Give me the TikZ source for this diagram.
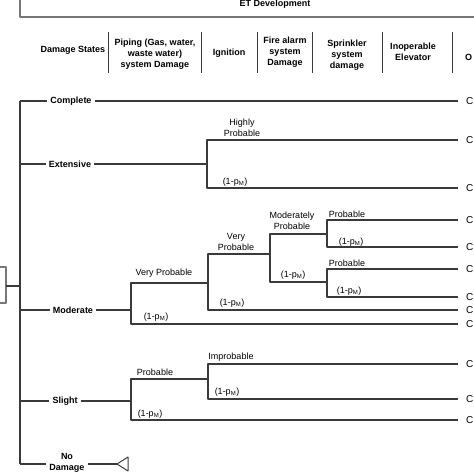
\documentclass[tikz,border=0pt]{standalone}
\usepackage{fontspec}
\setmainfont{Liberation Sans}
\usetikzlibrary{positioning}

\definecolor{treegray}{HTML}{3A3A3A}
\definecolor{framegray}{HTML}{777777}

\begin{document}
\begin{tikzpicture}[x=1pt, y=-1pt, line join=bevel,
    branch/.style={draw=treegray, line width=1.3pt},
    state/.style={font=\bfseries\fontsize{9}{11}\selectfont, align=center, inner sep=3pt},
    head/.style={font=\bfseries\fontsize{9}{11}\selectfont, align=center, inner sep=0pt},
    prob/.style={font=\fontsize{9}{11}\selectfont, align=center, inner sep=0pt},
    outc/.style={font=\fontsize{10}{12}\selectfont, anchor=west, inner sep=0pt}]
  \useasboundingbox (0,0) rectangle (474,474);
  % frame of the title and the box on the left
  \draw[framegray, line width=1.2pt] (20,-10) -- (20,17) -- (490,17);
  \node[head] (title) at (275,4) {ET Development};
  \draw[framegray, line width=1.2pt] (-10,267) -- (6,267) -- (6,303) -- (-10,303);
  \coordinate (ev) at (6,286);

  % column heads
  \node[head] (hds) at (73,50) {Damage States};
  \node[head] (hpip) at (155,54) {Piping (Gas, water,\\waste water)\\system Damage};
  \node[head] (hign) at (229,53) {Ignition};
  \node[head] (hfa) at (285,52) {Fire alarm\\system\\Damage};
  \node[head] (hspr) at (347,55) {Sprinkler\\system\\damage};
  \node[head] (helev) at (413,52) {Inoperable\\Elevator};
  \node[head, anchor=west] (hout) at (465,57) {O};
  \foreach \x in {108,201,257,312,382,452}
    \draw[treegray, line width=1pt] (\x,32) -- (\x,73);

  % trunk and damage states
  \coordinate (top) at (20,101);
  \coordinate (bot) at (20,464);
  \draw[branch] (top) -- (bot);
  \draw[branch] (ev) -- (ev -| top);
  \node[state] (cmp) at (71,101) {Complete};
  \node[state] (ext) at (70,164) {Extensive};
  \node[state] (mod) at (73,310) {Moderate};
  \node[state] (sli) at (65,401) {Slight};
  \node[state] (nod) at (67,463) {No\\Damage};
  \foreach \s in {cmp,ext,mod,sli}
    \draw[branch] (\s -| top) -- (\s);
  \draw[branch] (bot) -- (nod.west |- bot);

  % forks
  \coordinate (e1) at (207,164);
  \coordinate (m1) at (131,310);
  \coordinate (m2) at (208,283);
  \coordinate (m3) at (270,254);
  \coordinate (m4) at (327,234);
  \coordinate (m5) at (327,282);
  \coordinate (s1) at (131,401);
  \coordinate (s2) at (208,379);

  % ends of the branches
  \foreach \i/\y in {1/101,2/140,3/188,4/220,5/247,6/269,7/297,8/310,9/324,10/364,11/399,12/420} {
    \coordinate (c\i) at (458,\y);
    \node[outc] (o\i) at ([xshift=8]c\i) {C};
  }

  \draw[branch] (cmp) -- (c1);
  \draw[branch] (ext) -- (e1);
  \draw[branch] (e1) |- (c2);
  \draw[branch] (e1) |- (c3);
  \draw[branch] (mod) -- (m1);
  \draw[branch] (m1) |- (m2);
  \draw[branch] (m1) |- (c9);
  \draw[branch] (m2) |- (m3);
  \draw[branch] (m2) |- (c8);
  \draw[branch] (m3) |- (m4);
  \draw[branch] (m3) |- (m5);
  \draw[branch] (m4) |- (c4);
  \draw[branch] (m4) |- (c5);
  \draw[branch] (m5) |- (c6);
  \draw[branch] (m5) |- (c7);
  \draw[branch] (sli) -- (s1);
  \draw[branch] (s1) |- (s2);
  \draw[branch] (s1) |- (c12);
  \draw[branch] (s2) |- (c10);
  \draw[branch] (s2) |- (c11);

  % no damage ends in a triangle
  \coordinate (nd) at (117,464);
  \draw[branch] (nod.east |- nd) -- (nd);
  \draw[branch, line width=1pt] (nd) -- (128,457) -- (128,471) -- cycle;

  % probabilities
  \node[prob] (p1) at (242,128) {Highly\\Probable};
  \node[prob] (p2) at (235,182) {(1-p\textsubscript{M})};
  \node[prob] (p3) at (164,273) {Very Probable};
  \node[prob] (p4) at (156,317) {(1-p\textsubscript{M})};
  \node[prob] (p5) at (236,242) {Very\\Probable};
  \node[prob] (p6) at (232,303) {(1-p\textsubscript{M})};
  \node[prob] (p7) at (292,221) {Moderately\\Probable};
  \node[prob] (p8) at (293,275) {(1-p\textsubscript{M})};
  \node[prob] (p9) at (347,214) {Probable};
  \node[prob] (p10) at (351,242) {(1-p\textsubscript{M})};
  \node[prob] (p11) at (347,263) {Probable};
  \node[prob] (p12) at (349,291) {(1-p\textsubscript{M})};
  \node[prob] (p13) at (155,372) {Probable};
  \node[prob] (p14) at (150,414) {(1-p\textsubscript{M})};
  \node[prob] (p15) at (231,357) {Improbable};
  \node[prob] (p16) at (227,392) {(1-p\textsubscript{M})};
\end{tikzpicture}
\end{document}
